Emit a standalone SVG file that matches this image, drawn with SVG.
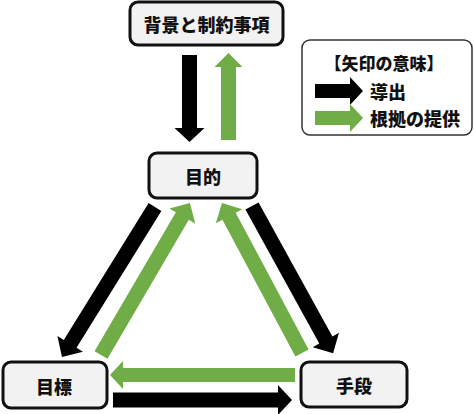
<svg xmlns="http://www.w3.org/2000/svg" width="474" height="414" viewBox="0 0 474 414">
<style>
.node{fill:#f2f2f2;stroke:#111;stroke-width:3}
.legend{fill:#fff;stroke:#333;stroke-width:1.5}
.t{font-family:"Noto Sans CJK JP","Noto Sans CJK SC",sans-serif;font-weight:900;fill:#111;text-anchor:middle;dominant-baseline:central}
.blk{fill:#000}
.grn{fill:#70ad47}
</style>
<rect width="474" height="414" fill="#fff"/>
<g id="connectors">
<polygon class="blk" transform="translate(189.5,55) rotate(90)" points="0,-7.5 73,-7.5 73,-15 87,0 73,15 73,7.5 0,7.5"/>
<polygon class="grn" transform="translate(228.5,140) rotate(-90)" points="0,-7.5 73,-7.5 73,-14 87,0 73,14 73,7.5 0,7.5"/>
<polygon class="blk" transform="translate(155,207) rotate(121.8)" points="0,-7.5 161,-7.5 161,-15 176.5,0 161,15 161,7.5 0,7.5"/>
<polygon class="grn" transform="translate(101,355) rotate(-59.65)" points="0,-7.5 161,-7.5 161,-15 176,0 161,15 161,7.5 0,7.5"/>
<polygon class="grn" transform="translate(302,353) rotate(-118.07)" points="0,-7.5 155,-7.5 155,-15 170,0 155,15 155,7.5 0,7.5"/>
<polygon class="blk" transform="translate(252,206) rotate(61.14)" points="0,-7.5 153,-7.5 153,-15 168,0 153,15 153,7.5 0,7.5"/>
<polygon class="grn" transform="translate(295,375) rotate(180)" points="0,-7 172,-7 172,-14 185,0 172,14 172,7 0,7"/>
<polygon class="blk" transform="translate(113,400) rotate(0)" points="0,-7.5 165,-7.5 165,-15 179,0 165,15 165,7.5 0,7.5"/>
</g>
<g id="node-background">
<rect class="node" x="130" y="2" width="153" height="43" rx="8"/>
<text class="t" x="206.5" y="23.5" font-size="18">背景と制約事項</text>
</g>
<g id="node-purpose">
<rect class="node" x="149" y="153" width="108" height="45" rx="8"/>
<text class="t" x="203" y="176" font-size="18">目的</text>
</g>
<g id="node-goal">
<rect class="node" x="3" y="362" width="104" height="46" rx="8"/>
<text class="t" x="54" y="386" font-size="18">目標</text>
</g>
<g id="node-means">
<rect class="node" x="301" y="362" width="106" height="45" rx="8"/>
<text class="t" x="354" y="385" font-size="18">手段</text>
</g>
<g id="legend">
<rect class="legend" x="302" y="40" width="170" height="95" rx="8"/>
<text class="t" x="384" y="62" font-size="17">【矢印の意味】</text>
<polygon class="blk" points="315,84 350,84 350,77 363,91 350,105 350,98 315,98"/>
<text class="t" x="370" y="91" font-size="18" style="text-anchor:start">導出</text>
<polygon class="grn" points="315,111 350,111 350,104 363,118 350,132 350,125 315,125"/>
<text class="t" x="370" y="118" font-size="18" style="text-anchor:start">根拠の提供</text>
</g>
</svg>
